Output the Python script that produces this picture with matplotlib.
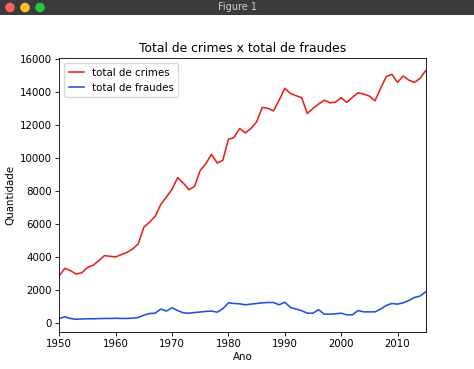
import matplotlib
matplotlib.use("Agg")
import matplotlib.pyplot as plt
from matplotlib.patches import Rectangle, Circle

anos = list(range(1950, 2016))
total_crimes = [2850, 3300, 3150, 2950, 3030, 3350, 3480, 3760, 4070, 4030,
                3990, 4130, 4270, 4470, 4780, 5800, 6100, 6450, 7180, 7630,
                8100, 8810, 8480, 8080, 8280, 9250, 9660, 10230, 9700, 9860,
                11140, 11250, 11800, 11530, 11800, 12200, 13080, 13020, 12870, 13520,
                14240, 13930, 13790, 13670, 12710, 13020, 13280, 13520, 13360, 13400,
                13670, 13380, 13690, 13970, 13890, 13770, 13480, 14240, 14950, 15090,
                14600, 14990, 14740, 14600, 14850, 15310]
total_fraudes = [245, 350, 245, 200, 220, 230, 230, 240, 250, 250,
                 260, 250, 250, 270, 305, 450, 550, 570, 820, 700,
                 900, 730, 590, 570, 610, 640, 680, 700, 630, 840,
                 1200, 1160, 1140, 1080, 1120, 1160, 1200, 1220, 1220, 1080,
                 1240, 920, 820, 720, 570, 570, 780, 510, 510, 530,
                 570, 470, 470, 730, 650, 650, 650, 820, 1040, 1160,
                 1120, 1200, 1340, 1525, 1610, 1870]

W, H = 474, 369
fig = plt.figure(figsize=(W / 100, H / 100), dpi=100)
fig.patch.set_facecolor("white")

# window title bar
bar_h = 15
fig.patches.append(Rectangle((0, 1 - bar_h / H), 1, bar_h / H, transform=fig.transFigure,
                             facecolor="#3b3b3d", edgecolor="none", zorder=0))
for cx, col in [(10, "#fe5f57"), (25, "#febc2e"), (40, "#29c840")]:
    fig.patches.append(Circle((cx, H - 7.5), 4.8, transform=None,
                              facecolor=col, edgecolor="none", zorder=1))
fig.text(0.5, 1 - 7.5 / H, "Figure 1", ha="center", va="center",
         color="#cfcfcf", fontsize=7)

left, right, top, bottom = 59.3, 425.7, 58.3, 331.7
ax = fig.add_axes([left / W, 1 - bottom / H, (right - left) / W, (bottom - top) / H])

ax.plot(anos, total_crimes, color="#e8201c", lw=1.15, label="total de crimes")
ax.plot(anos, total_fraudes, color="#1f50e0", lw=1.15, label="total de fraudes")

ax.set_xlim(1950, 2015)
ax.set_title("Total de crimes x total de fraudes", fontsize=8.9, pad=4.5)
ax.set_xlabel("Ano", fontsize=7.4, labelpad=2.5)
ax.set_ylabel("Quantidade", fontsize=7.4, labelpad=3)
ax.tick_params(labelsize=7.4, length=2.6, width=0.6, pad=2.6)
for s in ax.spines.values():
    s.set_linewidth(0.6)
ax.legend(loc="upper left", fontsize=7.4, framealpha=0.8, edgecolor="#cccccc",
          handlelength=1.5)

fig.savefig("out.png", dpi=100)
